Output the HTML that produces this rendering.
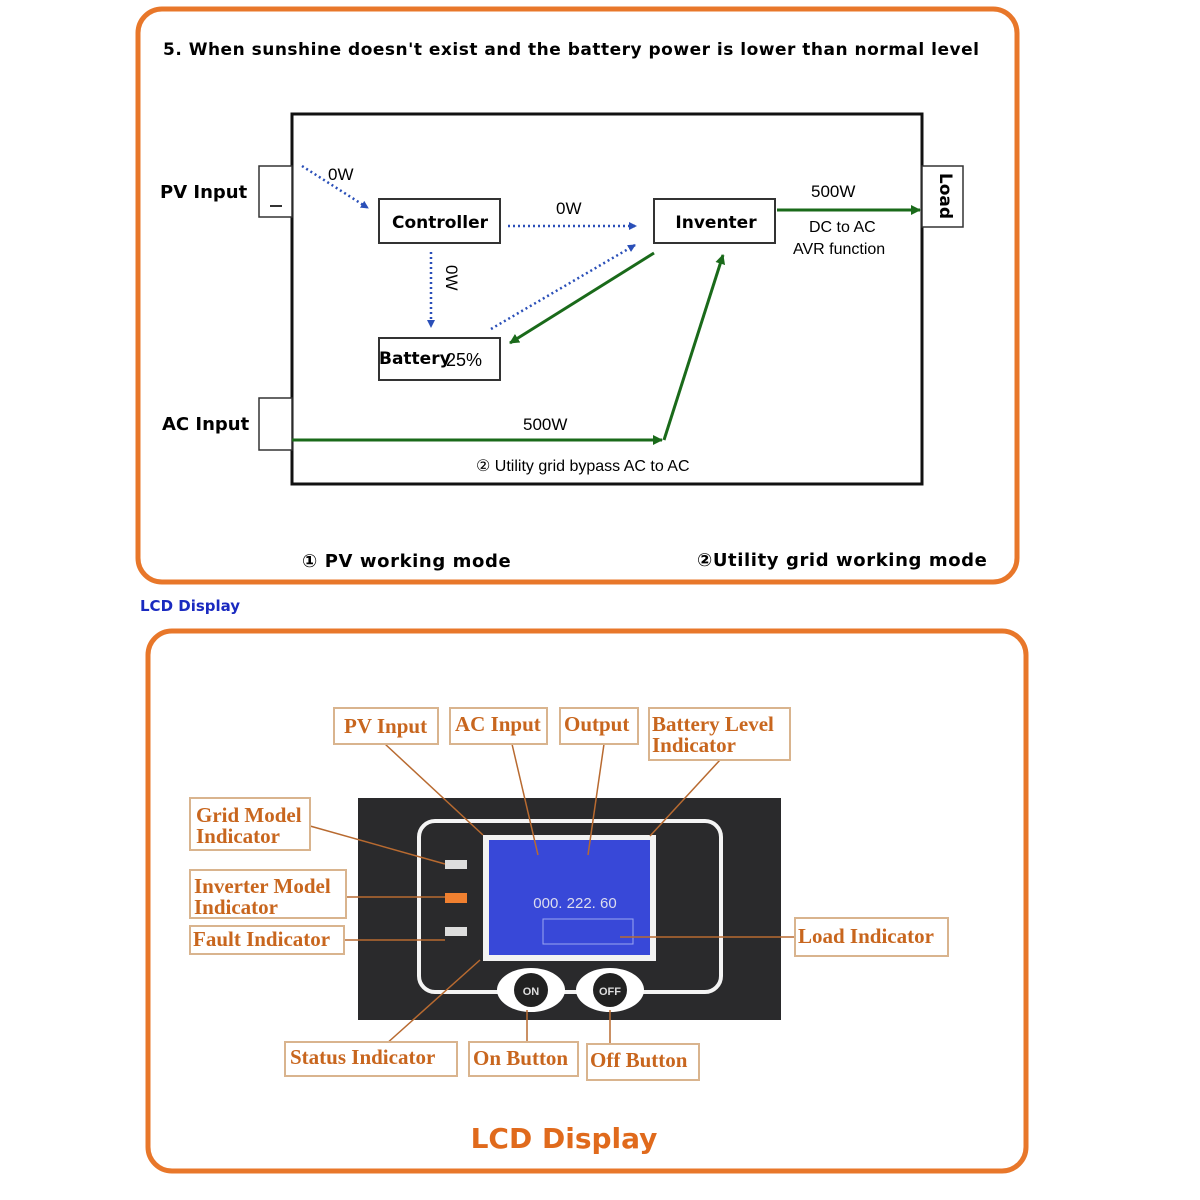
<!DOCTYPE html>
<html><head><meta charset="utf-8"><style>
html,body{margin:0;padding:0;background:#fff;}
svg{display:block;}
.b{font-family:"DejaVu Sans","Liberation Sans",sans-serif;font-weight:bold;}
.n{font-family:"Liberation Sans",sans-serif;}
.o{font-family:"Liberation Serif",serif;font-weight:bold;fill:#c8661e;font-size:21px;}
.lb{fill:#fff;stroke:#d9b48e;stroke-width:2;}
.ln{stroke:#b86a30;stroke-width:1.5;fill:none;}
</style></head><body>
<svg width="1200" height="1200" viewBox="0 0 1200 1200" xmlns="http://www.w3.org/2000/svg">
<defs>
<marker id="ab" markerWidth="8" markerHeight="8" refX="7" refY="4" orient="auto" markerUnits="userSpaceOnUse"><path d="M0,0 L8,4 L0,8 z" fill="#2a4fb8"/></marker>
<marker id="ag" markerWidth="10" markerHeight="10" refX="9" refY="5" orient="auto" markerUnits="userSpaceOnUse"><path d="M0,0 L10,5 L0,10 z" fill="#1a6a1a"/></marker>
</defs>
<rect x="138" y="9" width="879" height="573" rx="24" fill="#fff" stroke="#e8772a" stroke-width="5"/>
<text x="163" y="55" class="b" font-size="17" letter-spacing="0.5">5. When sunshine doesn't exist and the battery power is lower than normal level</text>
<rect x="292" y="114" width="630" height="370" fill="none" stroke="#111" stroke-width="3"/>
<rect x="259" y="166" width="33" height="51" fill="#fff" stroke="#333" stroke-width="1.5"/>
<line x1="270" y1="206" x2="282" y2="206" stroke="#333" stroke-width="2"/>
<rect x="259" y="398" width="33" height="52" fill="#fff" stroke="#333" stroke-width="1.5"/>
<rect x="922" y="166" width="41" height="61" fill="#fff" stroke="#333" stroke-width="1.5"/>
<text x="934" y="196" class="b" font-size="17" transform="rotate(90 934 196)" text-anchor="middle" dy="-6">Load</text>
<text x="160" y="198" class="b" font-size="18">PV Input</text>
<text x="162" y="430" class="b" font-size="18">AC Input</text>
<rect x="379" y="199" width="121" height="44" fill="#fff" stroke="#333" stroke-width="2"/>
<text x="440" y="228" class="b" font-size="17" text-anchor="middle">Controller</text>
<rect x="654" y="199" width="121" height="44" fill="#fff" stroke="#333" stroke-width="2"/>
<text x="716" y="228" class="b" font-size="17" text-anchor="middle">Inventer</text>
<rect x="379" y="338" width="121" height="42" fill="#fff" stroke="#333" stroke-width="2"/>
<text x="379" y="364" class="b" font-size="17">Battery</text>
<text x="446" y="366" class="n" font-size="18">25%</text>
<g stroke="#2a4fb8" stroke-width="2.5" stroke-dasharray="2,3" fill="none">
<line x1="302" y1="166" x2="368" y2="208" marker-end="url(#ab)"/>
<line x1="508" y1="226" x2="636" y2="226" marker-end="url(#ab)"/>
<line x1="431" y1="252" x2="431" y2="327" marker-end="url(#ab)"/>
<line x1="491" y1="329" x2="635" y2="245" marker-end="url(#ab)"/>
</g>
<text x="328" y="180" class="n" font-size="17">0W</text>
<text x="556" y="214" class="n" font-size="17">0W</text>
<text x="446" y="265" class="n" font-size="17" transform="rotate(90 446 265)">0W</text>
<g stroke="#1a6a1a" stroke-width="3" fill="none">
<line x1="654" y1="253" x2="510" y2="343" marker-end="url(#ag)"/>
<line x1="292" y1="440" x2="662" y2="440" marker-end="url(#ag)"/>
<line x1="664" y1="440" x2="723" y2="255" marker-end="url(#ag)"/>
<line x1="777" y1="210" x2="920" y2="210" marker-end="url(#ag)"/>
</g>
<text x="811" y="197" class="n" font-size="17">500W</text>
<text x="809" y="232" class="n" font-size="16">DC to AC</text>
<text x="793" y="254" class="n" font-size="16">AVR function</text>
<text x="523" y="430" class="n" font-size="17">500W</text>
<text x="476" y="471" class="n" font-size="16">② Utility grid bypass AC to AC</text>
<text x="302" y="567" class="b" font-size="18" letter-spacing="0.6">① PV working mode</text>
<text x="697" y="566" class="b" font-size="18" letter-spacing="0.6">②Utility grid working mode</text>
<text x="140" y="611" class="b" font-size="15" fill="#1a2ac0">LCD Display</text>
<rect x="148" y="631" width="878" height="540" rx="24" fill="#fff" stroke="#e8772a" stroke-width="5"/>
<rect x="358" y="798" width="423" height="222" fill="#2a2a2c"/>
<rect x="419" y="821" width="302" height="171" rx="16" fill="none" stroke="#f4f4f4" stroke-width="4"/>
<ellipse cx="531" cy="990" rx="34" ry="22" fill="#fff"/>
<ellipse cx="610" cy="990" rx="34" ry="22" fill="#fff"/>
<circle cx="531" cy="990" r="17" fill="#222"/>
<circle cx="610" cy="990" r="17" fill="#222"/>
<text x="531" y="995" class="n" font-size="11" fill="#ddd" text-anchor="middle" font-weight="bold">ON</text>
<text x="610" y="995" class="n" font-size="11" fill="#ddd" text-anchor="middle" font-weight="bold">OFF</text>
<rect x="483" y="835" width="173" height="126" fill="#f2f2f2"/>
<rect x="489" y="840" width="161" height="115" fill="#3848d8"/>
<text x="575" y="908" class="n" font-size="15" fill="#dde" text-anchor="middle">000. 222. 60</text>
<rect x="543" y="919" width="90" height="25" fill="none" stroke="#9aa6f0" stroke-width="1"/>
<rect x="445" y="860" width="22" height="9" fill="#ddd"/>
<rect x="445" y="893" width="22" height="10" fill="#f08030"/>
<rect x="445" y="927" width="22" height="9" fill="#ddd"/>
<g class="ln">
<line x1="385" y1="744" x2="483" y2="835"/>
<line x1="512" y1="744" x2="538" y2="855"/>
<line x1="604" y1="744" x2="588" y2="855"/>
<line x1="720" y1="760" x2="650" y2="836"/>
<line x1="310" y1="826" x2="445" y2="864"/>
<line x1="346" y1="897" x2="445" y2="897"/>
<line x1="344" y1="940" x2="445" y2="940"/>
<line x1="620" y1="937" x2="795" y2="937"/>
<line x1="385" y1="1045" x2="480" y2="960"/>
<line x1="527" y1="1010" x2="527" y2="1045"/>
<line x1="610" y1="1010" x2="610" y2="1045"/>
</g>
<rect class="lb" x="334" y="708" width="104" height="36"/><text class="o" x="344" y="733">PV Input</text>
<rect class="lb" x="450" y="708" width="97" height="36"/><text class="o" x="455" y="731">AC Input</text>
<rect class="lb" x="560" y="708" width="78" height="36"/><text class="o" x="564" y="731">Output</text>
<rect class="lb" x="649" y="708" width="141" height="52"/><text class="o" x="652" y="731">Battery Level</text><text class="o" x="652" y="752">Indicator</text>
<rect class="lb" x="190" y="798" width="120" height="52"/><text class="o" x="196" y="822">Grid Model</text><text class="o" x="196" y="843">Indicator</text>
<rect class="lb" x="190" y="870" width="156" height="48"/><text class="o" x="194" y="893">Inverter Model</text><text class="o" x="194" y="914">Indicator</text>
<rect class="lb" x="190" y="926" width="154" height="28"/><text class="o" x="193" y="946">Fault Indicator</text>
<rect class="lb" x="795" y="918" width="153" height="38"/><text class="o" x="798" y="943">Load Indicator</text>
<rect class="lb" x="285" y="1042" width="172" height="34"/><text class="o" x="290" y="1064">Status Indicator</text>
<rect class="lb" x="469" y="1042" width="109" height="34"/><text class="o" x="473" y="1065">On Button</text>
<rect class="lb" x="587" y="1044" width="112" height="36"/><text class="o" x="590" y="1067">Off Button</text>
<text x="564" y="1148" class="b" font-size="28" fill="#e06a1c" text-anchor="middle">LCD Display</text>
</svg>
</body></html>
